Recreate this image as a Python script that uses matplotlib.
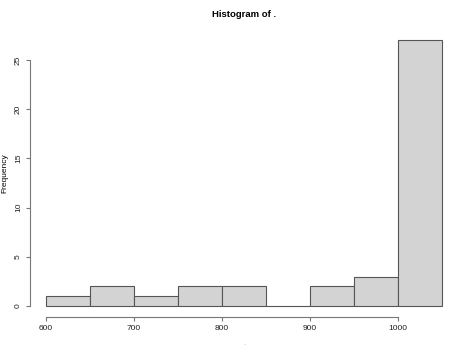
import matplotlib
matplotlib.use("Agg")
import matplotlib.pyplot as plt

# bin edges and counts
bin_edges = [600, 650, 700, 750, 800, 850, 900, 950, 1000, 1050]
counts = [1, 2, 1, 2, 2, 0, 2, 3, 27]
x_ticks = [600, 700, 800, 900, 1000]
y_ticks = [0, 5, 10, 15, 20, 25]

plt.rcParams["font.family"] = ["Liberation Sans", "DejaVu Sans"]

fig = plt.figure(figsize=(4.74, 3.55), dpi=100)
ax = fig.add_axes([0.0637, 0.108, 0.9023, 0.808])

ax.hist(bin_edges[:-1], bins=bin_edges, weights=counts,
        color="#d3d3d3", edgecolor="#555555", linewidth=0.8)

ax.set_xlim(582, 1068)
ax.set_ylim(-1.08, 28.08)

for side in ("top", "right"):
    ax.spines[side].set_visible(False)
ax.spines["bottom"].set_bounds(600, 1000)
ax.spines["left"].set_bounds(0, 25)
for side in ("bottom", "left"):
    ax.spines[side].set_color("#777777")
    ax.spines[side].set_linewidth(0.8)

ax.set_xticks(x_ticks)
ax.set_yticks(y_ticks)
ax.tick_params(axis="both", length=3, width=0.8, color="#777777",
               labelsize=6, labelcolor="#222222", pad=3)
plt.setp(ax.get_yticklabels(), rotation=90, va="center")

ax.set_title("Histogram of .", fontsize=6.8, fontweight="bold", pad=9)
ax.set_ylabel("Frequency", fontsize=6, labelpad=5)
ax.set_xlabel(".", fontsize=6, color="#bbbbbb", labelpad=6)

fig.savefig("out.png", dpi=100)
